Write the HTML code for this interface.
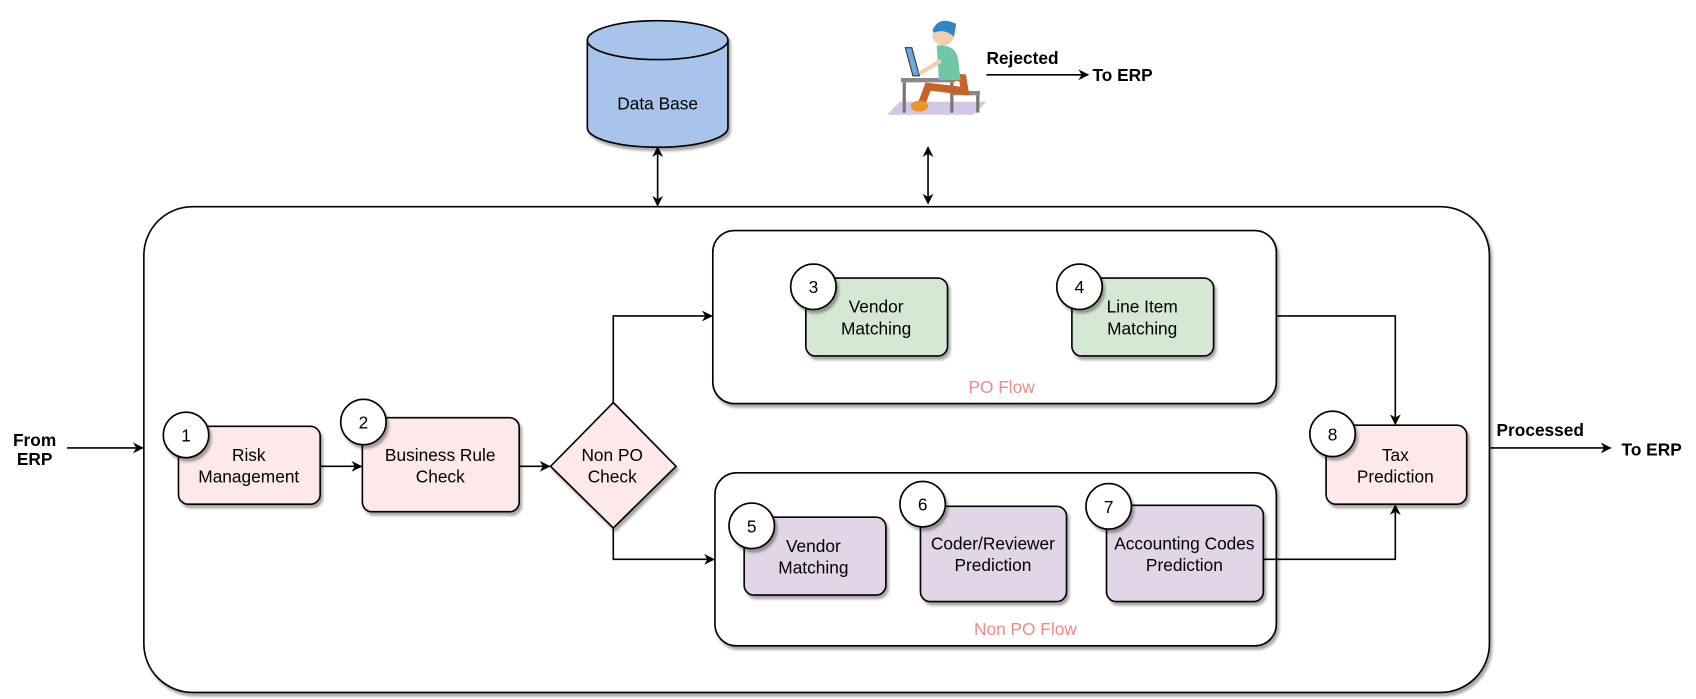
<!DOCTYPE html>
<html><head><meta charset="utf-8"><style>
html,body{margin:0;padding:0;background:#fff;}
svg{display:block;}
text{font-family:"Liberation Sans",Arial,sans-serif;}
</style></head><body>
<svg width="1696" height="699" viewBox="0 0 1568 646" xmlns="http://www.w3.org/2000/svg">
<defs>
<marker id="a" markerWidth="10" markerHeight="10" refX="9" refY="5" orient="auto" markerUnits="userSpaceOnUse"><path d="M0,0 L10,5 L0,10 L3,5 Z" fill="#000"/></marker>
<marker id="s" markerWidth="10" markerHeight="10" refX="1" refY="5" orient="auto" markerUnits="userSpaceOnUse"><path d="M10,0 L0,5 L10,10 L7,5 Z" fill="#000"/></marker>
<filter id="sh" x="-10%" y="-10%" width="130%" height="130%"><feDropShadow dx="2" dy="3" stdDeviation="1.2" flood-color="#000" flood-opacity="0.35"/></filter>
</defs>

<!-- Database -->
<g filter="url(#sh)">
<path d="M543,37 L543,118 A65,18 0 0 0 673,118 L673,37 Z" fill="#a9c4eb" stroke="#000" stroke-width="1.5"/>
<ellipse cx="608" cy="37" rx="65" ry="18" fill="#a9c4eb" stroke="#000" stroke-width="1.5"/>
</g>
<text x="608" y="101" font-size="16" text-anchor="middle">Data Base</text>

<!-- Person -->
<g>
<polygon points="820,106 900,106 912,94 832,94" fill="#c9b8e0" opacity="0.8"/>
<rect x="833" y="72" width="50" height="4" fill="#888"/>
<line x1="836" y1="76" x2="836" y2="104" stroke="#777" stroke-width="3"/>
<line x1="880" y1="76" x2="880" y2="104" stroke="#777" stroke-width="3"/>
<rect x="880" y="84" width="26" height="4" fill="#888"/>
<line x1="904" y1="88" x2="904" y2="104" stroke="#777" stroke-width="3"/>
<polygon points="837,44 843,44 850,70 844,70" fill="#6aa8e8" stroke="#333"/>
<path d="M870,70 L890,72 L892,84 L858,80 L852,96" stroke="#c8602a" stroke-width="7" fill="none"/>
<ellipse cx="850" cy="98" rx="8" ry="5" fill="#e8962a"/>
<path d="M866,42 Q884,40 886,56 L888,74 L868,74 Z" fill="#6fc7a8"/>
<circle cx="872" cy="32" r="10" fill="#f3cfae"/>
<path d="M862,28 Q868,14 884,22 L882,34 Q874,26 864,30 Z" fill="#2f86c8"/>
<line x1="870" y1="56" x2="850" y2="68" stroke="#f3cfae" stroke-width="4"/>
</g>
<text x="912" y="59" font-size="16" font-weight="bold">Rejected</text>
<line x1="912" y1="69" x2="1006" y2="69" stroke="#000" stroke-width="1.5" marker-end="url(#a)"/>
<text x="1010" y="75" font-size="16" font-weight="bold">To ERP</text>

<!-- double arrows -->
<line x1="608" y1="136" x2="608" y2="190" stroke="#000" stroke-width="1.5" marker-start="url(#s)" marker-end="url(#a)"/>
<line x1="858" y1="136" x2="858" y2="188" stroke="#000" stroke-width="1.5" marker-start="url(#s)" marker-end="url(#a)"/>

<!-- Outer container -->
<rect x="133" y="191" width="1244" height="449" rx="45" fill="#fff" stroke="#000" stroke-width="1.5" filter="url(#sh)"/>

<!-- From ERP -->
<text x="32" y="412" font-size="16" font-weight="bold" text-anchor="middle">From</text>
<text x="32" y="430" font-size="16" font-weight="bold" text-anchor="middle">ERP</text>
<line x1="62" y1="414" x2="132" y2="414" stroke="#000" stroke-width="1.5" marker-end="url(#a)"/>

<!-- PO flow container -->
<rect x="659" y="213" width="521" height="160" rx="20" fill="#fff" stroke="#000" stroke-width="1.5" filter="url(#sh)"/>
<text x="926" y="363" font-size="16" fill="#f08a8a" text-anchor="middle">PO Flow</text>
<!-- Non PO container -->
<rect x="661" y="437" width="519" height="160" rx="20" fill="#fff" stroke="#000" stroke-width="1.5" filter="url(#sh)"/>
<text x="948" y="587" font-size="16" fill="#f08a8a" text-anchor="middle">Non PO Flow</text>

<!-- connectors -->
<line x1="296" y1="431" x2="334" y2="431" stroke="#000" stroke-width="1.5" marker-end="url(#a)"/>
<line x1="480" y1="431" x2="508" y2="431" stroke="#000" stroke-width="1.5" marker-end="url(#a)"/>
<polyline points="567,373 567,292 658,292" fill="none" stroke="#000" stroke-width="1.5" marker-end="url(#a)"/>
<polyline points="567,488 567,517 660,517" fill="none" stroke="#000" stroke-width="1.5" marker-end="url(#a)"/>
<polyline points="1180,292 1290,292 1290,392" fill="none" stroke="#000" stroke-width="1.5" marker-end="url(#a)"/>
<polyline points="1168,517 1290,517 1290,467" fill="none" stroke="#000" stroke-width="1.5" marker-end="url(#a)"/>
<line x1="1377" y1="414" x2="1489" y2="414" stroke="#000" stroke-width="1.5" marker-end="url(#a)"/>
<text x="1424" y="403" font-size="16" font-weight="bold" text-anchor="middle">Processed</text>
<text x="1527" y="421" font-size="16" font-weight="bold" text-anchor="middle">To ERP</text>

<!-- Boxes -->
<g stroke="#000" stroke-width="1.5" filter="url(#sh)">
<rect x="165" y="394" width="131" height="72" rx="9" fill="#fde9e9"/>
<rect x="335" y="386" width="145" height="87" rx="9" fill="#fde9e9"/>
<polygon points="567,372 625,431 567,488 509,431" fill="#fde9e9"/>
<rect x="745" y="257" width="131" height="72" rx="9" fill="#d5e8d4"/>
<rect x="991" y="257" width="131" height="72" rx="9" fill="#d5e8d4"/>
<rect x="688" y="478" width="131" height="72" rx="9" fill="#e1d5e7"/>
<rect x="851" y="468" width="135" height="88" rx="9" fill="#e1d5e7"/>
<rect x="1023" y="467" width="145" height="89" rx="9" fill="#e1d5e7"/>
<rect x="1226" y="393" width="130" height="73" rx="9" fill="#fde9e9"/>
</g>

<g font-size="16" text-anchor="middle">
<text x="230" y="426">Risk</text><text x="230" y="446">Management</text>
<text x="407" y="426">Business Rule</text><text x="407" y="446">Check</text>
<text x="566" y="426">Non PO</text><text x="566" y="446">Check</text>
<text x="810" y="289">Vendor</text><text x="810" y="309">Matching</text>
<text x="1056" y="289">Line Item</text><text x="1056" y="309">Matching</text>
<text x="752" y="510">Vendor</text><text x="752" y="530">Matching</text>
<text x="918" y="508">Coder/Reviewer</text><text x="918" y="528">Prediction</text>
<text x="1095" y="508">Accounting Codes</text><text x="1095" y="528">Prediction</text>
<text x="1290" y="426">Tax</text><text x="1290" y="446">Prediction</text>
</g>

<!-- number circles -->
<g stroke="#000" stroke-width="1.5" fill="#fff" filter="url(#sh)">
<circle cx="172" cy="402" r="21"/>
<circle cx="336" cy="390" r="21"/>
<circle cx="752" cy="265" r="21"/>
<circle cx="998" cy="265" r="21"/>
<circle cx="695" cy="486" r="21"/>
<circle cx="853" cy="466" r="21"/>
<circle cx="1025" cy="468" r="21"/>
<circle cx="1232" cy="401" r="21"/>
</g>
<g font-size="16" text-anchor="middle">
<text x="172" y="408">1</text>
<text x="336" y="396">2</text>
<text x="752" y="271">3</text>
<text x="998" y="271">4</text>
<text x="695" y="492">5</text>
<text x="853" y="472">6</text>
<text x="1025" y="474">7</text>
<text x="1232" y="407">8</text>
</g>
</svg>
</body></html>
